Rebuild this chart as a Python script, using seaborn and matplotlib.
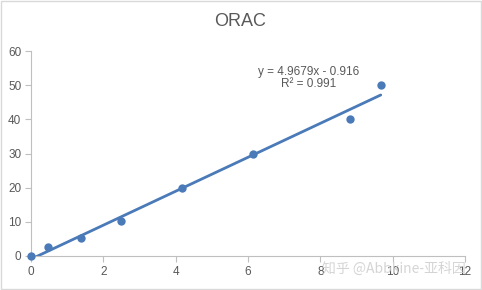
import matplotlib
matplotlib.use("Agg")
import matplotlib.pyplot as plt
import seaborn as sns
import numpy as np
import pandas as pd

# Data
x_vals = [0.0, 0.47, 1.38, 2.49, 4.17, 6.13, 8.81, 9.67]
y_vals = [0.0, 2.6, 5.3, 10.2, 19.9, 29.8, 40.0, 50.0]
slope = 4.9679
intercept = -0.916
r2 = 0.991
title = "ORAC"
x_ticks = [0, 2, 4, 6, 8, 10, 12]
y_ticks = [0, 10, 20, 30, 40, 50, 60]

sns.set_theme(style="white")
plt.rcParams['font.family'] = ['Liberation Sans', 'DejaVu Sans']

color = "#4a7ab8"
grey = "#595959"

fig = plt.figure(figsize=(4.82, 2.90), dpi=100)
ax = fig.add_axes([31/482, 34/290, 434/482, 205/290])

df = pd.DataFrame({"x": x_vals, "y": y_vals})
trend_x = [min(x_vals), max(x_vals)]
trend = pd.DataFrame({"x": trend_x, "y": [slope * v + intercept for v in trend_x]})

sns.lineplot(data=trend, x="x", y="y", ax=ax, color=color, linewidth=2.0, zorder=2)
sns.scatterplot(data=df, x="x", y="y", ax=ax, color=color, s=36, edgecolor=color,
                linewidth=0, zorder=3, clip_on=False)

ax.set_xlim(0, 12)
ax.set_ylim(0, 60)
ax.set_xticks(x_ticks)
ax.set_yticks(y_ticks)
ax.set_xlabel("")
ax.set_ylabel("")
for side in ["top", "right"]:
    ax.spines[side].set_visible(False)
for side in ["left", "bottom"]:
    ax.spines[side].set_color("#bfbfbf")
    ax.spines[side].set_linewidth(0.8)
ax.tick_params(axis="both", which="major", length=4, width=0.8, color="#bfbfbf",
               labelcolor=grey, labelsize=8.5, direction="out", pad=3)
ax.tick_params(left=True, bottom=True)

fig.text(240/482, 1 - 22/290, title, ha="center", va="center", fontsize=13, color=grey)
eq = f"y = {slope}x - {abs(intercept)}\nR² = {r2}"
fig.text(309/482, 1 - 78/290, eq, ha="center", va="center", fontsize=8.5, color=grey,
         linespacing=1.1)

# watermark
fig.text(322/482, 1 - 269/290, "知乎 @Abbkine-亚科因", ha="left", va="center", fontsize=10,
         color="#d0d0d0", alpha=0.9, family=['Noto Sans CJK SC', 'DejaVu Sans'])

# figure border
fig.patches.append(matplotlib.patches.Rectangle((0.002, 0.003), 0.996, 0.994,
                   transform=fig.transFigure, fill=False, edgecolor="#d9d9d9", linewidth=1))

fig.savefig("out.png", dpi=100)
